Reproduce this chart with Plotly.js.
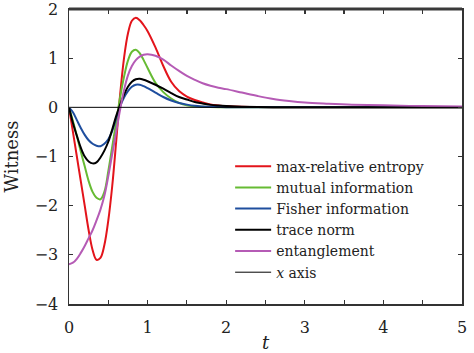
<!DOCTYPE html>
<html>
<head>
<meta charset="utf-8">
<script src="https://cdn.plot.ly/plotly-3.0.1.min.js"></script>
<style>html,body{margin:0;padding:0;background:#fff;}#chart{width:474px;height:353px;}</style>
</head>
<body>
<div id="chart"></div>
<script>
var t = [0, 0.05, 0.1, 0.15, 0.2, 0.25, 0.3, 0.35, 0.4, 0.45, 0.5, 0.55, 0.6, 0.65, 0.7, 0.75, 0.8, 0.85, 0.9, 0.95, 1.0, 1.1, 1.2, 1.3, 1.4, 1.5, 1.6, 1.7, 1.8, 1.9, 2.0, 2.2, 2.4, 2.6, 2.8, 3.0, 3.3, 3.6, 4.0, 4.5, 5.0];
var maxRelEntropy = [0, -0.5, -1.0, -1.5, -2.0, -2.5, -2.9, -3.1, -3.06, -2.8, -2.3, -1.6, -0.7, 0.25, 1.0, 1.5, 1.76, 1.82, 1.77, 1.67, 1.55, 1.22, 0.84, 0.52, 0.33, 0.22, 0.15, 0.1, 0.06, 0.04, 0.025, 0.01, 0.005, 0.002, 0.001, 0, 0, 0, 0, 0, 0];
var mutualInfo = [0, -0.28, -0.58, -0.9, -1.2, -1.5, -1.72, -1.84, -1.87, -1.72, -1.3, -0.8, -0.3, 0.2, 0.62, 0.95, 1.13, 1.17, 1.1, 0.96, 0.8, 0.5, 0.31, 0.18, 0.09, 0.04, 0.02, 0.01, 0.005, 0.002, 0.001, 0, 0, 0, 0, 0, 0, 0, 0, 0, 0];
var fisherInfo = [0, -0.1, -0.26, -0.42, -0.56, -0.67, -0.74, -0.78, -0.79, -0.74, -0.65, -0.48, -0.22, 0.02, 0.2, 0.33, 0.42, 0.46, 0.46, 0.43, 0.39, 0.3, 0.21, 0.14, 0.09, 0.055, 0.03, 0.018, 0.01, 0.006, 0.003, 0.001, 0, 0, 0, 0, 0, 0, 0, 0, 0];
var traceNorm = [0, -0.32, -0.58, -0.82, -1.0, -1.1, -1.14, -1.12, -1.02, -0.88, -0.7, -0.45, -0.18, 0.05, 0.26, 0.42, 0.52, 0.57, 0.58, 0.56, 0.53, 0.46, 0.38, 0.29, 0.21, 0.16, 0.11, 0.08, 0.05, 0.035, 0.025, 0.012, 0.005, 0.002, 0.001, 0, 0, 0, 0, 0, 0];
var entanglement = [-3.19, -3.16, -3.08, -2.96, -2.82, -2.66, -2.5, -2.3, -2.08, -1.8, -1.4, -0.95, -0.5, -0.05, 0.35, 0.65, 0.84, 0.96, 1.03, 1.07, 1.08, 1.05, 0.97, 0.85, 0.74, 0.64, 0.56, 0.49, 0.44, 0.40, 0.37, 0.30, 0.23, 0.17, 0.13, 0.1, 0.075, 0.055, 0.04, 0.025, 0.015];
var axisT = [0, 5];
var axisY = [0, 0];

var names = ['max-relative entropy', 'mutual information', 'Fisher information', 'trace norm', 'entanglement', '<i>x</i> axis'];
var colors = ['#e3141b', '#66bb33', '#1f4e9e', '#000000', '#b55bb5', '#000000'];
var series = [maxRelEntropy, mutualInfo, fisherInfo, traceNorm, entanglement];

var xTickVals = [0, 0.5, 1, 1.5, 2, 2.5, 3, 3.5, 4, 4.5, 5];
var xTickText = ['0', '', '1', '', '2', '', '3', '', '4', '', '5'];
var xTopText = ['', '', '', '', '', '', '', '', '', '', ''];
var yTickVals = [-4, -3, -2, -1, 0, 1, 2];
var yTickText = ['\u22124', '\u22123', '\u22122', '\u22121', '0', '1', '2'];

var traces = series.map(function (s, i) {
  return {x: t, y: s, type: 'scatter', mode: 'lines', name: names[i],
    line: {color: colors[i], width: 2, shape: 'spline', smoothing: 1}};
});
traces.push({x: axisT, y: axisY, xaxis: 'x2', type: 'scatter', mode: 'lines', name: names[5],
  line: {color: colors[5], width: 1}});

var font = 'DejaVu Serif';
var lineCol = '#333';
var layout = {
  width: 474, height: 353,
  margin: {l: 69, r: 12, t: 9, b: 49},
  paper_bgcolor: '#fff', plot_bgcolor: '#fff',
  showlegend: true,
  legend: {x: 0.41, xanchor: 'left', y: 0.52, yanchor: 'top', bgcolor: 'rgba(0,0,0,0)',
    font: {family: font, size: 14, color: '#222'}, itemwidth: 36, tracegroupgap: 0},
  shapes: [{type: 'line', xref: 'paper', yref: 'paper', x0: 0, x1: 1, y0: 1, y1: 1,
    line: {color: '#3a3a3a', width: 3}, layer: 'above'}],
  xaxis: {range: [0, 5], tickvals: xTickVals, ticktext: xTickText, ticks: 'inside', ticklen: 4,
    tickcolor: lineCol, showline: true, linecolor: lineCol, linewidth: 1.5, mirror: 'ticks',
    showgrid: false, zeroline: false, ticklabelstandoff: 8, ticklabeloverflow: 'allow',
    tickfont: {family: font, size: 16, color: '#222'},
    title: {text: '<i>t</i>', font: {family: font, size: 18, color: '#222'}, standoff: 6}},
  xaxis2: {overlaying: 'x', side: 'top', range: [0, 5], tickvals: xTickVals, ticktext: xTopText,
    ticks: 'inside', ticklen: 5, tickwidth: 1.5, tickcolor: lineCol, showline: true, linecolor: lineCol, linewidth: 1.5,
    showgrid: false, zeroline: false},
  yaxis: {range: [-4, 2], tickvals: yTickVals, ticktext: yTickText, ticks: 'inside', ticklen: 4,
    tickcolor: lineCol, showline: true, linecolor: lineCol, linewidth: 1.5, mirror: 'ticks',
    showgrid: false, zeroline: false, ticklabelstandoff: 6, ticklabeloverflow: 'allow',
    tickfont: {family: font, size: 16, color: '#222'},
    title: {text: 'Witness', font: {family: font, size: 18, color: '#222'}, standoff: 11}}
};
Plotly.newPlot('chart', traces, layout, {displayModeBar: false, staticPlot: true});
</script>
</body>
</html>
